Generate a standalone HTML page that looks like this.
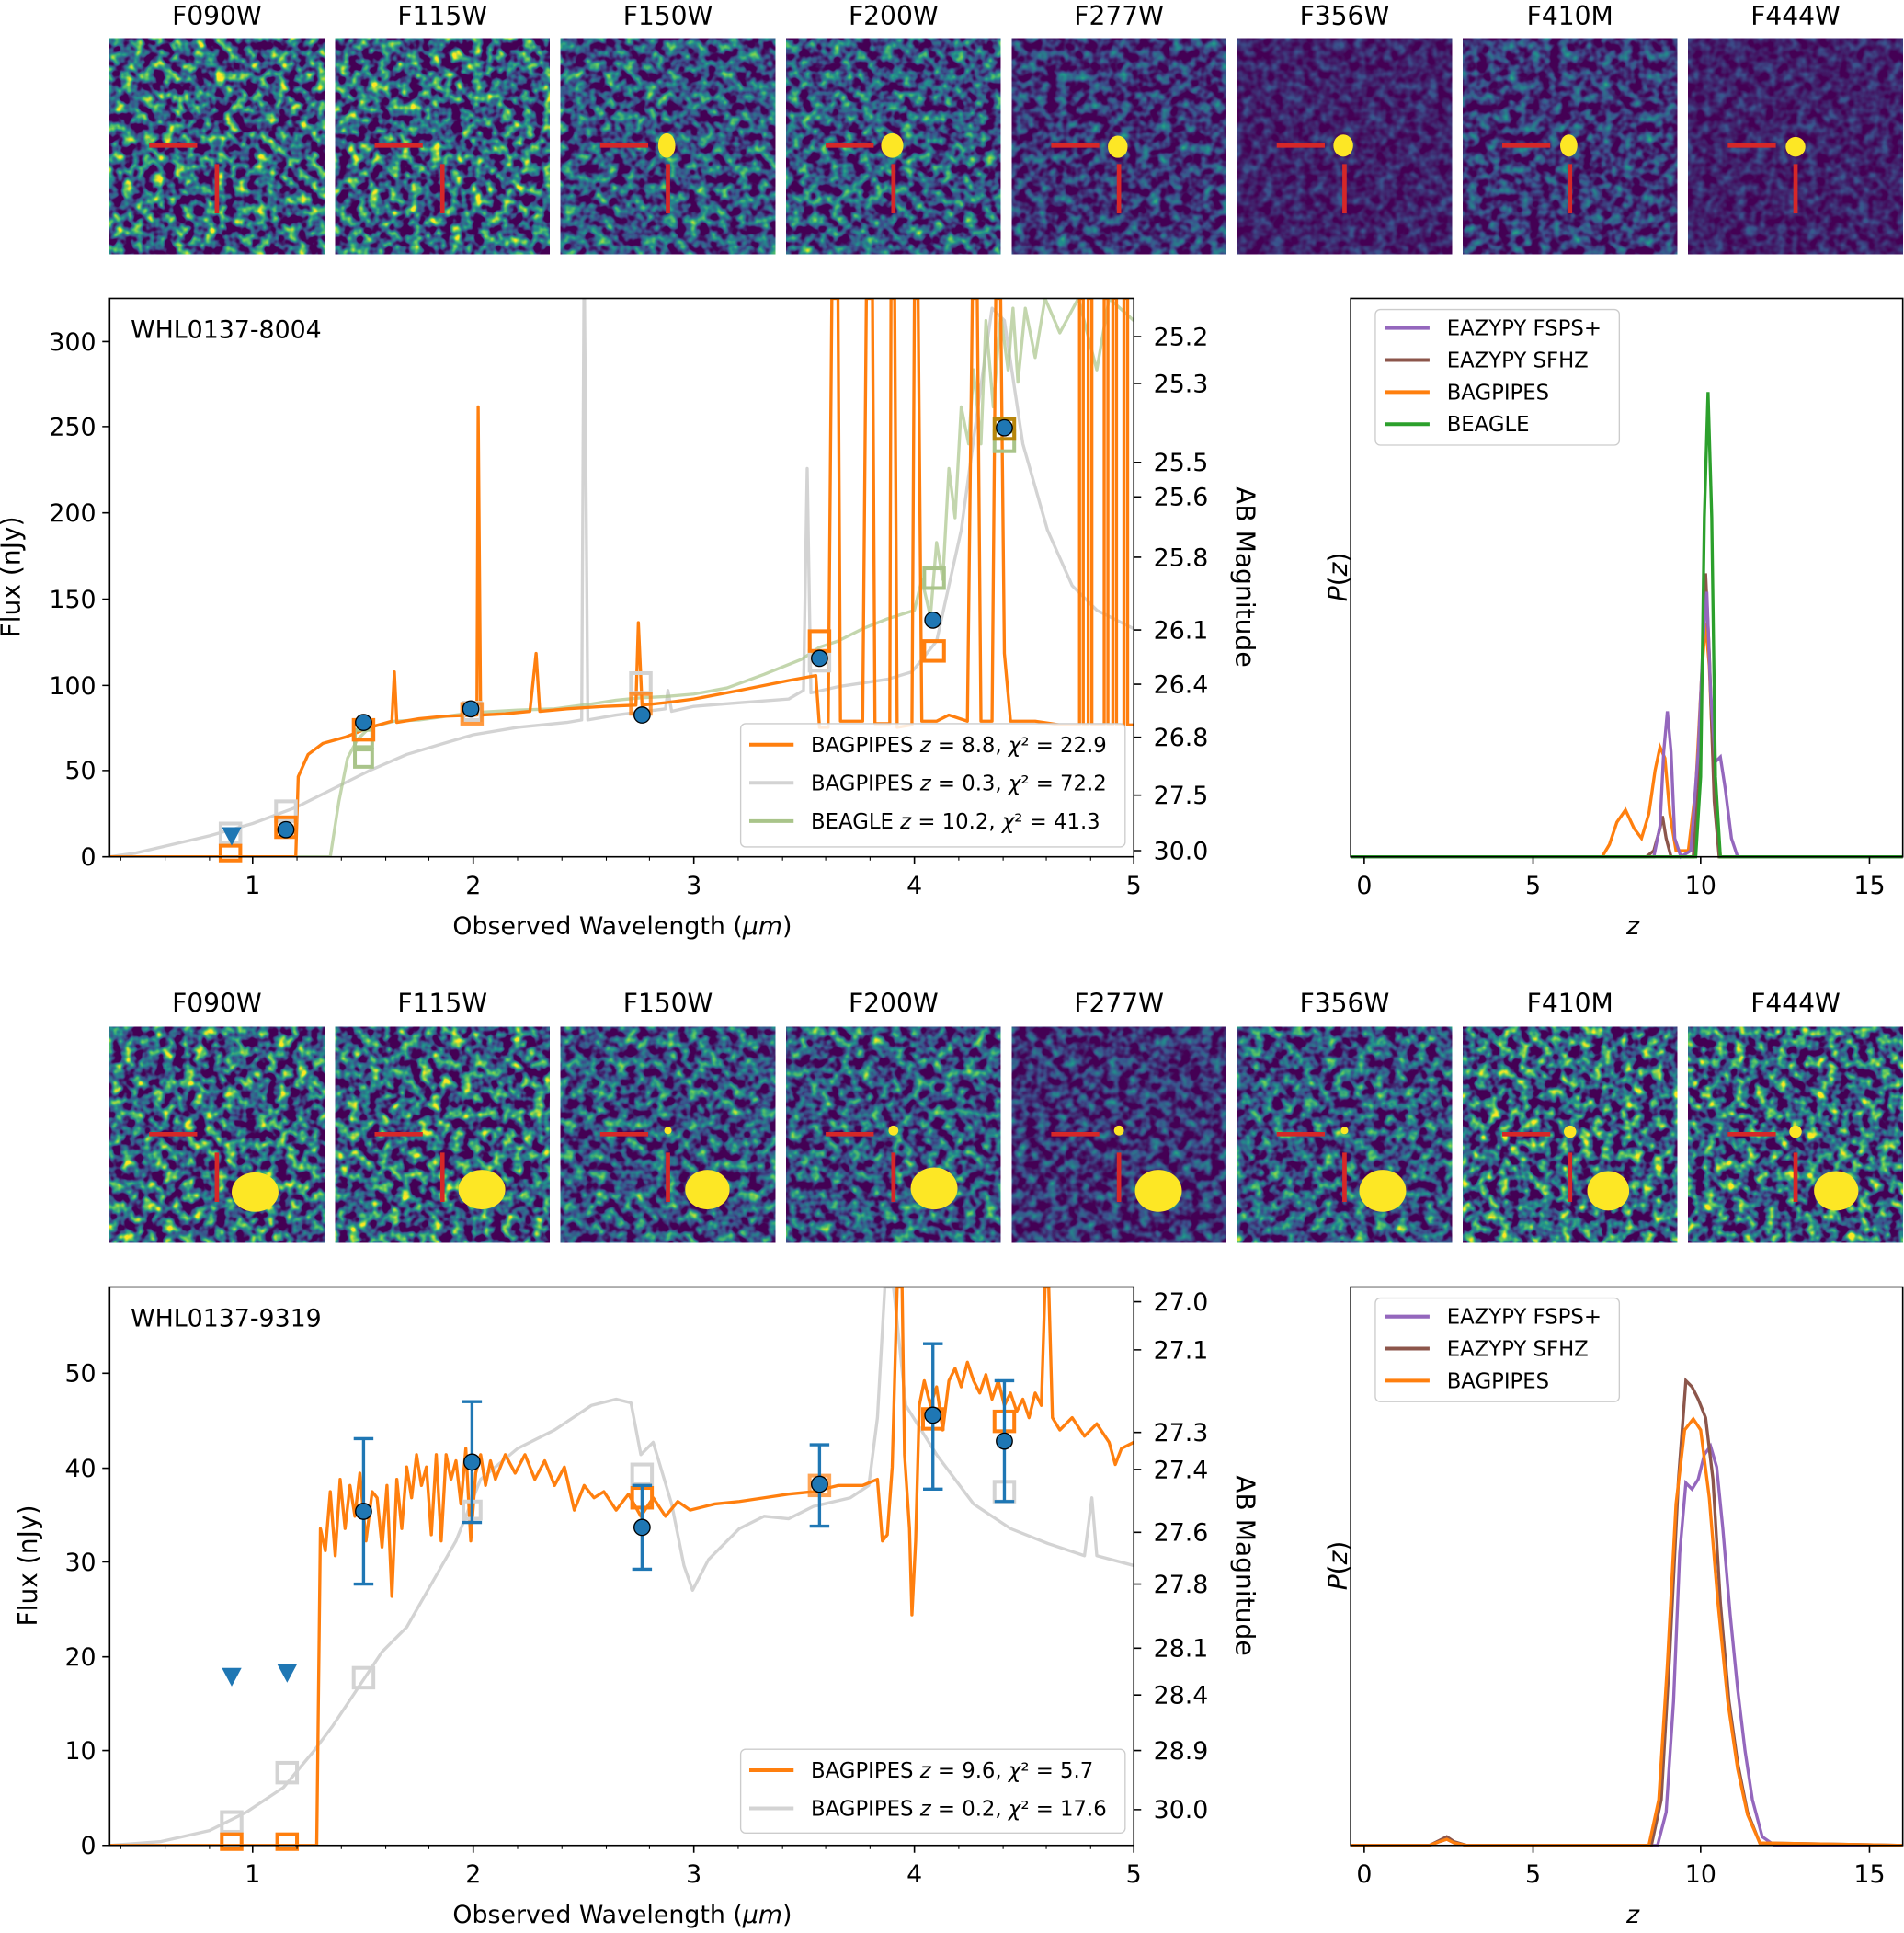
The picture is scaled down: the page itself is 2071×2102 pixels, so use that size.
<!DOCTYPE html>
<html><head><meta charset="utf-8"><style>
html,body{margin:0;padding:0;background:#fff;}
svg{display:block;font-family:"DejaVu Sans","Liberation Sans",sans-serif;}
</style></head><body>
<svg width="2071" height="2102" viewBox="0 0 1545 1568" xmlns="http://www.w3.org/2000/svg">
<defs>
<filter id="nA" x="0" y="0" width="1" height="1" color-interpolation-filters="sRGB"><feTurbulence type="fractalNoise" baseFrequency="0.12" numOctaves="2" seed="3"/><feColorMatrix type="matrix" values="2.3 0 0 0 -0.85  2.3 0 0 0 -0.85  2.3 0 0 0 -0.85  0 0 0 0 1"/><feComponentTransfer><feFuncR type="table" tableValues="0.27 0.23 0.13 0.37 0.99"/><feFuncG type="table" tableValues="0.0 0.32 0.57 0.79 0.91"/><feFuncB type="table" tableValues="0.33 0.55 0.55 0.38 0.14"/></feComponentTransfer></filter>
<filter id="nB" x="0" y="0" width="1" height="1" color-interpolation-filters="sRGB"><feTurbulence type="fractalNoise" baseFrequency="0.12" numOctaves="2" seed="7"/><feColorMatrix type="matrix" values="1.8 0 0 0 -0.65  1.8 0 0 0 -0.65  1.8 0 0 0 -0.65  0 0 0 0 1"/><feComponentTransfer><feFuncR type="table" tableValues="0.27 0.23 0.13 0.37 0.99"/><feFuncG type="table" tableValues="0.0 0.32 0.57 0.79 0.91"/><feFuncB type="table" tableValues="0.33 0.55 0.55 0.38 0.14"/></feComponentTransfer></filter>
<filter id="nC" x="0" y="0" width="1" height="1" color-interpolation-filters="sRGB"><feTurbulence type="fractalNoise" baseFrequency="0.12" numOctaves="2" seed="11"/><feColorMatrix type="matrix" values="1.1 0 0 0 -0.4  1.1 0 0 0 -0.4  1.1 0 0 0 -0.4  0 0 0 0 1"/><feComponentTransfer><feFuncR type="table" tableValues="0.27 0.23 0.13 0.37 0.99"/><feFuncG type="table" tableValues="0.0 0.32 0.57 0.79 0.91"/><feFuncB type="table" tableValues="0.33 0.55 0.55 0.38 0.14"/></feComponentTransfer></filter>
<filter id="nD" x="0" y="0" width="1" height="1" color-interpolation-filters="sRGB"><feTurbulence type="fractalNoise" baseFrequency="0.12" numOctaves="2" seed="19"/><feColorMatrix type="matrix" values="0.6 0 0 0 -0.2  0.6 0 0 0 -0.2  0.6 0 0 0 -0.2  0 0 0 0 1"/><feComponentTransfer><feFuncR type="table" tableValues="0.27 0.23 0.13 0.37 0.99"/><feFuncG type="table" tableValues="0.0 0.32 0.57 0.79 0.91"/><feFuncB type="table" tableValues="0.33 0.55 0.55 0.38 0.14"/></feComponentTransfer></filter>
</defs>

<g font-size="21" text-anchor="middle" fill="#000">
<text x="176" y="20">F090W</text><text x="359" y="20">F115W</text><text x="542" y="20">F150W</text><text x="725" y="20">F200W</text><text x="908" y="20">F277W</text><text x="1091" y="20">F356W</text><text x="1274" y="20">F410M</text><text x="1457" y="20">F444W</text>
<text x="176" y="821">F090W</text><text x="359" y="821">F115W</text><text x="542" y="821">F150W</text><text x="725" y="821">F200W</text><text x="908" y="821">F277W</text><text x="1091" y="821">F356W</text><text x="1274" y="821">F410M</text><text x="1457" y="821">F444W</text>
</g>
<g stroke="#000" stroke-width="1.2">
<rect x="89" y="31" width="174" height="175" filter="url(#nA)"/>
<rect x="272" y="31" width="174" height="175" filter="url(#nA)"/>
<rect x="455" y="31" width="174" height="175" filter="url(#nB)"/>
<rect x="638" y="31" width="174" height="175" filter="url(#nB)"/>
<rect x="821" y="31" width="174" height="175" filter="url(#nC)"/>
<rect x="1004" y="31" width="174" height="175" filter="url(#nD)"/>
<rect x="1187" y="31" width="174" height="175" filter="url(#nC)"/>
<rect x="1370" y="31" width="174" height="175" filter="url(#nD)"/>
<rect x="89" y="833" width="174" height="175" filter="url(#nA)"/>
<rect x="272" y="833" width="174" height="175" filter="url(#nA)"/>
<rect x="455" y="833" width="174" height="175" filter="url(#nB)"/>
<rect x="638" y="833" width="174" height="175" filter="url(#nB)"/>
<rect x="821" y="833" width="174" height="175" filter="url(#nC)"/>
<rect x="1004" y="833" width="174" height="175" filter="url(#nB)"/>
<rect x="1187" y="833" width="174" height="175" filter="url(#nA)"/>
<rect x="1370" y="833" width="174" height="175" filter="url(#nA)"/>
</g>
<g fill="#fde725">
<ellipse cx="541" cy="118" rx="7" ry="10"/><ellipse cx="724" cy="118" rx="9" ry="10"/><ellipse cx="907" cy="119" rx="8" ry="9"/><ellipse cx="1090" cy="118" rx="8" ry="9"/><ellipse cx="1273" cy="118" rx="7" ry="9"/><ellipse cx="1457" cy="119" rx="8" ry="8"/>
<ellipse cx="207" cy="967" rx="19" ry="16"/><ellipse cx="391" cy="965" rx="19" ry="16"/><ellipse cx="574" cy="965" rx="18" ry="16"/><ellipse cx="758" cy="964" rx="19" ry="17"/><ellipse cx="940" cy="966" rx="19" ry="17"/><ellipse cx="1122" cy="966" rx="19" ry="17"/><ellipse cx="1305" cy="966" rx="17" ry="16"/><ellipse cx="1490" cy="966" rx="18" ry="16"/>
<circle cx="542" cy="917" r="3"/><circle cx="725" cy="917" r="4"/><circle cx="908" cy="917" r="4"/><circle cx="1091" cy="917" r="3"/><circle cx="1274" cy="918" r="5"/><circle cx="1457" cy="918" r="5"/>
</g>
<g stroke="#d62728" stroke-width="3.5">
<path d="M121 118H160M176 133V173M304 118H343M359 133V173M487 118H526M542 133V173M670 118H709M725 133V173M853 118H892M908 133V173M1036 118H1075M1091 133V173M1219 118H1258M1274 133V173M1402 118H1441M1457 133V173"/>
<path d="M121 920H160M176 935V975M304 920H343M359 935V975M487 920H526M542 935V975M670 920H709M725 935V975M853 920H892M908 935V975M1036 920H1075M1091 935V975M1219 920H1258M1274 935V975M1402 920H1441M1457 935V975"/>
</g>

<!-- PLOT 1 -->
<clipPath id="c1"><rect x="89" y="242" width="831" height="453"/></clipPath>
<g clip-path="url(#c1)" fill="none" stroke-linejoin="round">
<polyline stroke="#d3d3d3" stroke-width="2.5" points="89,695 110,692 140,685 170,678 205,668 240,655 270,640 300,625 330,612 360,603 384,596 420,590 460,586 472,584 474,200 477,584 500,580 540,575 542,560 545,577 563,573 600,570 640,567 652,560 655,380 658,562 680,557 720,551 740,545 760,520 780,430 795,320 805,250 815,260 830,360 850,430 870,475 890,495 920,510"/>
<polyline stroke="#a9c48a" stroke-opacity="0.7" stroke-width="2.5" points="89,695 268,695 275,650 282,615 290,600 300,590 320,585 340,584 384,578 420,576 450,575 480,571 500,568 520,566 540,565 563,563 590,558 620,547 650,535 665,525 680,520 700,510 720,502 742,495 748,470 755,500 760,440 765,470 770,380 775,420 780,330 786,360 790,300 796,360 800,260 806,330 812,255 818,300 822,250 826,310 832,250 840,290 848,242 860,270 875,242 890,300 900,242 920,260"/>
<polyline stroke="#ff7f0e" stroke-width="2.5" points="89,695 240,695 242,630 250,612 262,603 280,598 300,590 318,585 320,545 322,586 340,583 360,581 387,580 388,330 390,580 410,579 430,577 435,530 438,577 460,575 490,573 516,572 518,505 521,572 540,570 563,567 600,560 640,552 662,548 665,590 672,590 675,242 680,242 682,585 700,585 703,242 708,242 710,587 722,587 723,242 726,242 728,590 740,588 742,242 745,242 748,585 760,585 770,580 785,585 789,242 793,242 796,585 805,585 808,242 812,242 815,530 820,585 840,585 860,588 876,588 876,242 879,242 879,588 883,588 883,242 886,242 886,588 896,588 896,242 899,242 899,588 903,588 903,242 906,242 906,588 912,588 912,242 915,242 915,588 920,588"/>
</g>
<g fill="none" stroke-width="3">
<rect x="179" y="668" width="16" height="16" stroke="#d3d3d3"/>
<rect x="224" y="650" width="16" height="16" stroke="#d3d3d3"/>
<rect x="288" y="592" width="14" height="14" stroke="#a9c48a"/>
<rect x="288" y="608" width="14" height="14" stroke="#a9c48a"/>
<rect x="376" y="570" width="14" height="14" stroke="#d3d3d3"/>
<rect x="512" y="546" width="16" height="16" stroke="#d3d3d3"/>
<rect x="657" y="528" width="16" height="16" stroke="#d3d3d3"/>
<rect x="750" y="461" width="16" height="16" stroke="#a9c48a"/>
<rect x="807" y="350" width="16" height="16" stroke="#a9c48a"/>
<rect x="179" y="686" width="16" height="12" stroke="#ff7f0e"/>
<rect x="224" y="663" width="16" height="16" stroke="#ff7f0e"/>
<rect x="287" y="584" width="16" height="16" stroke="#ff7f0e"/>
<rect x="375" y="571" width="16" height="16" stroke="#ff7f0e" stroke-opacity="0.8"/>
<rect x="512" y="563" width="16" height="16" stroke="#ff7f0e" stroke-opacity="0.8"/>
<rect x="657" y="512" width="16" height="16" stroke="#ff7f0e"/>
<rect x="750" y="520" width="16" height="16" stroke="#ff7f0e"/>
<rect x="807" y="340" width="16" height="16" stroke="#b8860b"/>
</g>
<g fill="#1f77b4" stroke="#000" stroke-width="1">
<path d="M180 671L196 671L188 686Z" stroke="none"/>
<circle cx="232" cy="673" r="6.5"/><circle cx="295" cy="586" r="6.5"/><circle cx="382" cy="575" r="6.5"/><circle cx="521" cy="580" r="6.5"/><circle cx="665" cy="534" r="6.5"/><circle cx="757" cy="503" r="6.5"/><circle cx="815" cy="347" r="6.5"/>
</g>
<rect x="89" y="242" width="831" height="453" fill="none" stroke="#000" stroke-width="1.2"/>
<text x="106" y="274" font-size="20">WHL0137-8004</text>
<g stroke="#000" stroke-width="1.2">
<path d="M89 695h-6M89 625h-6M89 556h-6M89 486h-6M89 416h-6M89 346h-6M89 277h-6"/>
<path d="M205 695v6M384 695v6M563 695v6M742 695v6M920 695v6"/>
<path d="M920 273h6M920 311h6M920 375h6M920 403h6M920 452h6M920 511h6M920 555h6M920 598h6M920 645h6M920 690h6"/>
<path stroke-width="0.8" d="M98 695v3M134 695v3M170 695v3M241 695v3M277 695v3M313 695v3M348 695v3M420 695v3M456 695v3M492 695v3M527 695v3M599 695v3M635 695v3M670 695v3M706 695v3M778 695v3M814 695v3M849 695v3M885 695v3"/>
</g>
<g font-size="20" text-anchor="end">
<text x="78" y="702">0</text><text x="78" y="632">50</text><text x="78" y="563">100</text><text x="78" y="493">150</text><text x="78" y="423">200</text><text x="78" y="353">250</text><text x="78" y="284">300</text>
</g>
<g font-size="20" text-anchor="middle">
<text x="205" y="725">1</text><text x="384" y="725">2</text><text x="563" y="725">3</text><text x="742" y="725">4</text><text x="920" y="725">5</text>
<text x="505" y="758">Observed Wavelength (<tspan font-style="italic">μm</tspan>)</text>
</g>
<g font-size="20">
<text x="936" y="280">25.2</text><text x="936" y="318">25.3</text><text x="936" y="382">25.5</text><text x="936" y="410">25.6</text><text x="936" y="459">25.8</text><text x="936" y="518">26.1</text><text x="936" y="562">26.4</text><text x="936" y="605">26.8</text><text x="936" y="652">27.5</text><text x="936" y="697">30.0</text>
</g>
<text font-size="21" transform="translate(1003,468) rotate(90)" text-anchor="middle">AB Magnitude</text>
<text font-size="21" transform="translate(16,468) rotate(-90)" text-anchor="middle">Flux (nJy)</text>
<rect x="601" y="587" width="312" height="100" rx="4" fill="#fff" fill-opacity="0.85" stroke="#ccc"/>
<g stroke-width="3"><path d="M608 604h36" stroke="#ff7f0e"/><path d="M608 635h36" stroke="#d3d3d3"/><path d="M608 666h36" stroke="#a9c48a"/></g>
<g font-size="17">
<text x="658" y="610">BAGPIPES <tspan font-style="italic">z</tspan> = 8.8, <tspan font-style="italic">χ</tspan>² = 22.9</text>
<text x="658" y="641">BAGPIPES <tspan font-style="italic">z</tspan> = 0.3, <tspan font-style="italic">χ</tspan>² = 72.2</text>
<text x="658" y="672">BEAGLE <tspan font-style="italic">z</tspan> = 10.2, <tspan font-style="italic">χ</tspan>² = 41.3</text>
</g>

<!-- PZ 1 -->
<g fill="none" stroke-width="2.5">
<polyline stroke="#ff7f0e" points="1096,695 1300,695 1306,685 1312,667 1319,657 1326,672 1332,680 1338,660 1343,625 1347,606 1351,615 1355,660 1360,690 1370,690 1376,640 1381,545 1384,505 1387,540 1391,640 1396,695 1544,695"/>
<polyline stroke="#8c564b" points="1096,695 1336,695 1342,690 1347,672 1349,662 1352,680 1356,695 1374,695 1378,640 1382,520 1384,465 1387,530 1391,650 1395,695 1544,695"/>
<polyline stroke="#9467bd" points="1096,695 1342,695 1347,670 1350,610 1353,577 1356,610 1359,680 1364,695 1372,690 1378,610 1382,520 1385,480 1388,560 1392,618 1396,614 1400,640 1405,680 1410,695 1544,695"/>
<polyline stroke="#2ca02c" points="1096,695 1376,695 1380,630 1383,420 1386,318 1389,420 1392,630 1396,695 1544,695"/>
</g>
<rect x="1096" y="242" width="448" height="453" fill="none" stroke="#000" stroke-width="1.2"/>
<g stroke="#000" stroke-width="1.2"><path d="M1107 695v6M1244 695v6M1380 695v6M1517 695v6"/></g>
<g font-size="20" text-anchor="middle"><text x="1107" y="725">0</text><text x="1244" y="725">5</text><text x="1380" y="725">10</text><text x="1517" y="725">15</text><text x="1325" y="758" font-style="italic">z</text></g>
<text font-size="21" transform="translate(1093,468) rotate(-90)" text-anchor="middle"><tspan font-style="italic">P</tspan>(<tspan font-style="italic">z</tspan>)</text>
<rect x="1116" y="251" width="198" height="110" rx="4" fill="#fff" stroke="#ccc"/>
<g stroke-width="3"><path d="M1124 266h36" stroke="#9467bd"/><path d="M1124 292h36" stroke="#8c564b"/><path d="M1124 318h36" stroke="#ff7f0e"/><path d="M1124 344h36" stroke="#2ca02c"/></g>
<g font-size="17"><text x="1174" y="272">EAZYPY FSPS+</text><text x="1174" y="298">EAZYPY SFHZ</text><text x="1174" y="324">BAGPIPES</text><text x="1174" y="350">BEAGLE</text></g>

<!-- PLOT 2 -->
<clipPath id="c2"><rect x="89" y="1044" width="831" height="453"/></clipPath>
<g clip-path="url(#c2)" fill="none" stroke-linejoin="round">
<polyline stroke="#d3d3d3" stroke-width="2.5" points="89,1497 130,1494 170,1485 200,1470 230,1450 255,1420 270,1400 290,1370 310,1340 330,1320 350,1285 370,1250 390,1200 420,1175 450,1160 480,1140 500,1135 512,1138 520,1180 530,1170 545,1220 555,1270 562,1290 575,1265 600,1240 620,1230 640,1232 660,1222 690,1215 705,1205 712,1150 718,1044 725,1044 735,1140 760,1180 790,1220 820,1240 850,1252 880,1262 886,1215 890,1262 920,1270"/>
<polyline stroke="#ff7f0e" stroke-width="2.5" points="89,1497 257,1497 260,1240 264,1258 268,1210 272,1262 276,1200 280,1240 284,1205 288,1230 292,1195 297,1250 302,1210 306,1215 310,1255 314,1205 318,1295 322,1200 326,1240 330,1190 334,1215 338,1180 342,1205 346,1190 350,1245 354,1180 358,1250 362,1180 366,1200 370,1185 374,1220 378,1175 382,1250 386,1195 390,1180 394,1205 398,1185 402,1200 410,1180 418,1195 426,1180 434,1200 442,1185 450,1205 458,1190 466,1225 474,1205 482,1215 490,1210 500,1225 510,1212 520,1230 530,1215 540,1230 550,1218 560,1225 580,1220 600,1218 620,1215 640,1212 660,1210 680,1205 700,1205 712,1200 716,1250 720,1245 724,1190 728,1044 732,1044 734,1180 738,1240 740,1310 743,1250 746,1140 750,1120 755,1140 760,1125 765,1160 770,1120 775,1110 780,1125 785,1105 790,1120 795,1130 800,1115 805,1135 810,1120 815,1140 820,1130 825,1145 830,1135 835,1150 840,1130 845,1140 848,1044 851,1044 854,1150 860,1160 870,1150 880,1165 890,1155 900,1170 905,1188 910,1175 920,1170"/>
</g>
<g fill="none" stroke-width="3">
<rect x="180" y="1470" width="16" height="16" stroke="#d3d3d3"/>
<rect x="225" y="1430" width="16" height="16" stroke="#d3d3d3"/>
<rect x="287" y="1353" width="16" height="16" stroke="#d3d3d3"/>
<rect x="376" y="1218" width="14" height="14" stroke="#d3d3d3"/>
<rect x="513" y="1188" width="16" height="16" stroke="#d3d3d3"/>
<rect x="807" y="1202" width="16" height="16" stroke="#d3d3d3"/>
<rect x="180" y="1488" width="16" height="12" stroke="#ff7f0e"/>
<rect x="225" y="1488" width="16" height="12" stroke="#ff7f0e"/>
<rect x="513" y="1207" width="16" height="16" stroke="#ff7f0e"/>
<rect x="657" y="1197" width="16" height="16" stroke="#ff7f0e" stroke-opacity="0.7"/>
<rect x="749" y="1143" width="16" height="16" stroke="#ff7f0e"/>
<rect x="807" y="1145" width="16" height="16" stroke="#ff7f0e"/>
</g>
<g stroke="#1f77b4" stroke-width="2.5">
<path d="M295 1167V1285M287 1167h16M287 1285h16M383 1137V1235M375 1137h16M375 1235h16M521 1205V1273M513 1205h16M513 1273h16M665 1172V1238M657 1172h16M657 1238h16M757 1090V1208M749 1090h16M749 1208h16M815 1120V1218M807 1120h16M807 1218h16"/>
</g>
<g fill="#1f77b4" stroke="#000" stroke-width="1">
<path d="M180 1353L196 1353L188 1368Z" stroke="none"/><path d="M225 1350L241 1350L233 1365Z" stroke="none"/>
<circle cx="295" cy="1226" r="6.5"/><circle cx="383" cy="1186" r="6.5"/><circle cx="521" cy="1239" r="6.5"/><circle cx="665" cy="1204" r="6.5"/><circle cx="757" cy="1148" r="6.5"/><circle cx="815" cy="1169" r="6.5"/>
</g>
<rect x="89" y="1044" width="831" height="453" fill="none" stroke="#000" stroke-width="1.2"/>
<text x="106" y="1076" font-size="20">WHL0137-9319</text>
<g stroke="#000" stroke-width="1.2">
<path d="M89 1497h-6M89 1420h-6M89 1344h-6M89 1267h-6M89 1191h-6M89 1114h-6"/>
<path d="M205 1497v6M384 1497v6M563 1497v6M742 1497v6M920 1497v6"/>
<path d="M920 1056h6M920 1095h6M920 1162h6M920 1192h6M920 1243h6M920 1285h6M920 1337h6M920 1375h6M920 1420h6M920 1468h6"/>
<path stroke-width="0.8" d="M98 1497v3M134 1497v3M170 1497v3M241 1497v3M277 1497v3M313 1497v3M348 1497v3M420 1497v3M456 1497v3M492 1497v3M527 1497v3M599 1497v3M635 1497v3M670 1497v3M706 1497v3M778 1497v3M814 1497v3M849 1497v3M885 1497v3"/>
</g>
<g font-size="20" text-anchor="end">
<text x="78" y="1504">0</text><text x="78" y="1427">10</text><text x="78" y="1351">20</text><text x="78" y="1274">30</text><text x="78" y="1198">40</text><text x="78" y="1121">50</text>
</g>
<g font-size="20" text-anchor="middle">
<text x="205" y="1527">1</text><text x="384" y="1527">2</text><text x="563" y="1527">3</text><text x="742" y="1527">4</text><text x="920" y="1527">5</text>
<text x="505" y="1560">Observed Wavelength (<tspan font-style="italic">μm</tspan>)</text>
</g>
<g font-size="20">
<text x="936" y="1063">27.0</text><text x="936" y="1102">27.1</text><text x="936" y="1169">27.3</text><text x="936" y="1199">27.4</text><text x="936" y="1250">27.6</text><text x="936" y="1292">27.8</text><text x="936" y="1344">28.1</text><text x="936" y="1382">28.4</text><text x="936" y="1427">28.9</text><text x="936" y="1475">30.0</text>
</g>
<text font-size="21" transform="translate(1003,1270) rotate(90)" text-anchor="middle">AB Magnitude</text>
<text font-size="21" transform="translate(30,1270) rotate(-90)" text-anchor="middle">Flux (nJy)</text>
<rect x="601" y="1419" width="312" height="68" rx="4" fill="#fff" fill-opacity="0.85" stroke="#ccc"/>
<g stroke-width="3"><path d="M608 1436h36" stroke="#ff7f0e"/><path d="M608 1467h36" stroke="#d3d3d3"/></g>
<g font-size="17">
<text x="658" y="1442">BAGPIPES <tspan font-style="italic">z</tspan> = 9.6, <tspan font-style="italic">χ</tspan>² = 5.7</text>
<text x="658" y="1473">BAGPIPES <tspan font-style="italic">z</tspan> = 0.2, <tspan font-style="italic">χ</tspan>² = 17.6</text>
</g>

<!-- PZ 2 -->
<g fill="none" stroke-width="2.5">
<polyline stroke="#9467bd" points="1096,1497 1160,1497 1168,1494 1174,1492 1180,1495 1190,1497 1345,1497 1352,1470 1358,1380 1363,1260 1368,1203 1373,1208 1378,1200 1383,1180 1388,1173 1393,1190 1398,1240 1404,1310 1410,1370 1416,1420 1422,1460 1430,1490 1440,1497 1544,1497"/>
<polyline stroke="#8c564b" points="1096,1497 1160,1497 1168,1493 1174,1490 1180,1494 1190,1497 1340,1497 1348,1460 1355,1340 1362,1200 1368,1120 1373,1125 1378,1135 1384,1150 1390,1200 1396,1300 1403,1380 1410,1430 1418,1470 1428,1495 1544,1497"/>
<polyline stroke="#ff7f0e" points="1096,1497 1160,1497 1168,1494 1174,1492 1180,1495 1190,1497 1338,1497 1346,1460 1353,1350 1360,1220 1367,1160 1374,1151 1380,1160 1387,1215 1394,1300 1402,1380 1410,1435 1418,1472 1428,1495 1544,1497"/>
</g>
<rect x="1096" y="1044" width="448" height="453" fill="none" stroke="#000" stroke-width="1.2"/>
<g stroke="#000" stroke-width="1.2"><path d="M1107 1497v6M1244 1497v6M1380 1497v6M1517 1497v6"/></g>
<g font-size="20" text-anchor="middle"><text x="1107" y="1527">0</text><text x="1244" y="1527">5</text><text x="1380" y="1527">10</text><text x="1517" y="1527">15</text><text x="1325" y="1560" font-style="italic">z</text></g>
<text font-size="21" transform="translate(1093,1270) rotate(-90)" text-anchor="middle"><tspan font-style="italic">P</tspan>(<tspan font-style="italic">z</tspan>)</text>
<rect x="1116" y="1053" width="198" height="84" rx="4" fill="#fff" stroke="#ccc"/>
<g stroke-width="3"><path d="M1124 1068h36" stroke="#9467bd"/><path d="M1124 1094h36" stroke="#8c564b"/><path d="M1124 1120h36" stroke="#ff7f0e"/></g>
<g font-size="17"><text x="1174" y="1074">EAZYPY FSPS+</text><text x="1174" y="1100">EAZYPY SFHZ</text><text x="1174" y="1126">BAGPIPES</text></g>
</svg>
</body></html>
